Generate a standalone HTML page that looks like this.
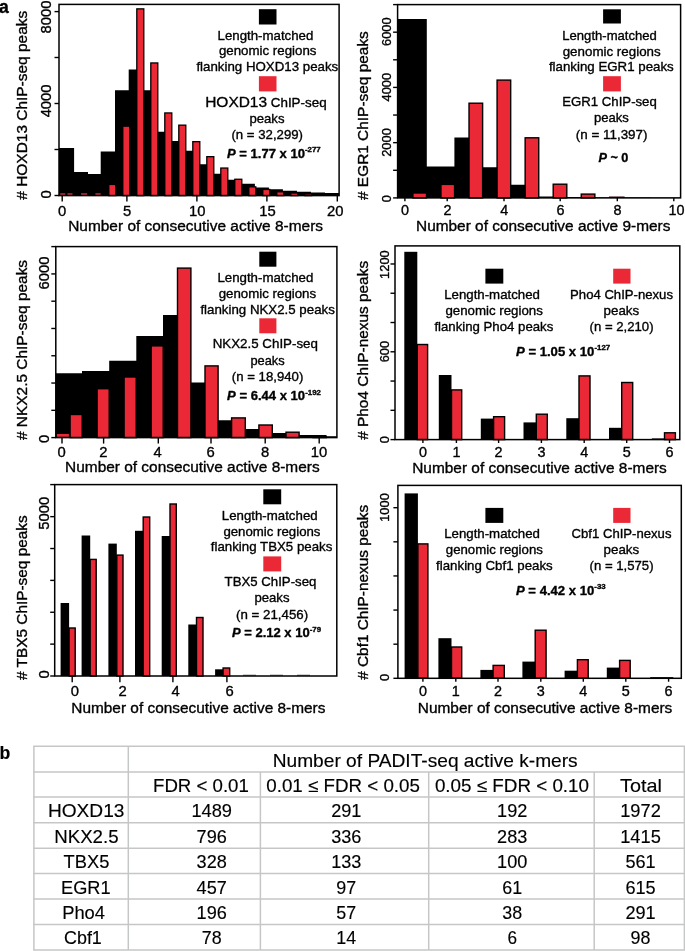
<!DOCTYPE html>
<html lang="en"><head><meta charset="utf-8"><title>Figure</title>
<style>html,body{margin:0;padding:0;background:#fff}svg{display:block}text{font-family:"Liberation Sans",sans-serif;stroke:#000;stroke-width:.35px;stroke-linejoin:round}#tbl text{stroke-width:.15px}</style>
</head><body>
<svg width="685" height="951" viewBox="0 0 685 951" font-family='"Liberation Sans", sans-serif'>
<rect width="685" height="951" fill="#fff"/>
<g id="p1">
<polygon fill="#000" points="59.00,195.60 59.00,148.00 74.10,148.00 74.10,172.00 88.00,172.00 88.00,174.00 100.70,174.00 100.70,151.50 115.00,151.50 115.00,90.30 128.70,90.30 128.70,69.50 142.72,69.50 142.72,90.30 156.74,90.30 156.74,131.70 170.76,131.70 170.76,141.00 184.78,141.00 184.78,150.70 198.80,150.70 198.80,164.30 212.82,164.30 212.82,173.80 226.84,173.80 226.84,179.70 240.86,179.70 240.86,183.80 254.88,183.80 254.88,187.60 268.90,187.60 268.90,189.30 282.92,189.30 282.92,190.70 296.94,190.70 296.94,191.70 310.96,191.70 310.96,192.50 324.98,192.50 324.98,193.10 339.10,193.10 339.10,195.60"/>
<rect x="108.80" y="184.45" width="7.00" height="11.15" fill="#eb2836" stroke="#000" stroke-width="1.3"/>
<rect x="122.80" y="126.15" width="7.00" height="69.45" fill="#eb2836" stroke="#000" stroke-width="1.3"/>
<rect x="136.80" y="8.85" width="7.00" height="186.75" fill="#eb2836" stroke="#000" stroke-width="1.3"/>
<rect x="150.80" y="62.95" width="7.00" height="132.65" fill="#eb2836" stroke="#000" stroke-width="1.3"/>
<rect x="164.80" y="112.95" width="7.00" height="82.65" fill="#eb2836" stroke="#000" stroke-width="1.3"/>
<rect x="178.80" y="125.15" width="7.00" height="70.45" fill="#eb2836" stroke="#000" stroke-width="1.3"/>
<rect x="192.80" y="141.65" width="7.00" height="53.95" fill="#eb2836" stroke="#000" stroke-width="1.3"/>
<rect x="206.80" y="156.65" width="7.00" height="38.95" fill="#eb2836" stroke="#000" stroke-width="1.3"/>
<rect x="220.80" y="168.05" width="7.00" height="27.55" fill="#eb2836" stroke="#000" stroke-width="1.3"/>
<rect x="234.80" y="179.25" width="7.00" height="16.35" fill="#eb2836" stroke="#000" stroke-width="1.3"/>
<rect x="248.80" y="186.85" width="7.00" height="8.75" fill="#eb2836" stroke="#000" stroke-width="1.3"/>
<rect x="262.80" y="189.45" width="7.00" height="6.15" fill="#eb2836" stroke="#000" stroke-width="1.3"/>
<rect x="276.80" y="191.85" width="7.00" height="3.75" fill="#eb2836" stroke="#000" stroke-width="1.3"/>
<rect x="290.80" y="193.05" width="7.00" height="2.55" fill="#eb2836" stroke="#000" stroke-width="1.3"/>
<rect x="304.80" y="193.95" width="7.00" height="1.65" fill="#eb2836" stroke="#000" stroke-width="1.3"/>
<rect x="60.20" y="193.20" width="5.10" height="1.70" fill="#b8283c"/>
<rect x="67.40" y="193.20" width="5.10" height="1.70" fill="#b8283c"/>
<rect x="81.00" y="193.20" width="6.20" height="1.70" fill="#b8283c"/>
<rect x="95.40" y="193.20" width="5.30" height="1.70" fill="#b8283c"/>
<rect x="59.00" y="4.40" width="280.10" height="191.20" fill="none" stroke="#000" stroke-width="1.5"/>
<line x1="54.50" y1="11.60" x2="59.00" y2="11.60" stroke="#000" stroke-width="1.4"/>
<line x1="54.50" y1="57.50" x2="59.00" y2="57.50" stroke="#000" stroke-width="1.4"/>
<line x1="54.50" y1="103.50" x2="59.00" y2="103.50" stroke="#000" stroke-width="1.4"/>
<line x1="54.50" y1="149.50" x2="59.00" y2="149.50" stroke="#000" stroke-width="1.4"/>
<line x1="54.50" y1="195.50" x2="59.00" y2="195.50" stroke="#000" stroke-width="1.4"/>
<line x1="62.20" y1="195.60" x2="62.20" y2="201.60" stroke="#000" stroke-width="1.4"/>
<line x1="126.90" y1="195.60" x2="126.90" y2="201.60" stroke="#000" stroke-width="1.4"/>
<line x1="196.90" y1="195.60" x2="196.90" y2="201.60" stroke="#000" stroke-width="1.4"/>
<line x1="266.90" y1="195.60" x2="266.90" y2="201.60" stroke="#000" stroke-width="1.4"/>
<line x1="337.30" y1="195.60" x2="337.30" y2="201.60" stroke="#000" stroke-width="1.4"/>
<text x="51.20" y="17.00" font-size="14.8" text-anchor="middle" transform="rotate(-90 51.20 17.00)">8000</text>
<text x="51.20" y="100.90" font-size="14.8" text-anchor="middle" transform="rotate(-90 51.20 100.90)">4000</text>
<text x="51.20" y="194.50" font-size="14.8" text-anchor="middle" transform="rotate(-90 51.20 194.50)">0</text>
<text x="27.00" y="199.70" font-size="15.4" textLength="188.87" lengthAdjust="spacingAndGlyphs" transform="rotate(-90 27.00 199.70)"># HOXD13 ChIP-seq peaks</text>
<text x="62.20" y="215.50" font-size="14.8" text-anchor="middle">0</text>
<text x="127.00" y="215.50" font-size="14.8" text-anchor="middle">5</text>
<text x="197.20" y="215.50" font-size="14.8" text-anchor="middle">10</text>
<text x="267.50" y="215.50" font-size="14.8" text-anchor="middle">15</text>
<text x="335.20" y="215.50" font-size="14.8" text-anchor="middle">20</text>
<text x="68.20" y="230.70" font-size="15.5" textLength="254.83" lengthAdjust="spacingAndGlyphs">Number of consecutive active 8-mers</text>
<rect x="258.90" y="9.20" width="17.60" height="15.30" fill="#000"/>
<rect x="258.90" y="76.20" width="17.60" height="15.20" fill="#eb2836"/>
<text x="217.60" y="40.00" font-size="13.15" textLength="95.73" lengthAdjust="spacingAndGlyphs">Length-matched</text>
<text x="218.90" y="55.40" font-size="13.15" textLength="97.57" lengthAdjust="spacingAndGlyphs">genomic regions</text>
<text x="196.40" y="71.00" font-size="13.15" textLength="141.87" lengthAdjust="spacingAndGlyphs">flanking HOXD13 peaks</text>
<text x="205.20" y="107.00" font-size="13.15" textLength="121.40" lengthAdjust="spacingAndGlyphs"><tspan font-size="15.2">HOXD13</tspan> ChIP-seq</text>
<text x="249.40" y="122.50" font-size="13.15" textLength="35.08" lengthAdjust="spacingAndGlyphs">peaks</text>
<text x="231.40" y="138.60" font-size="13.15" textLength="71.61" lengthAdjust="spacingAndGlyphs">(n = 32,299)</text>
<text x="226.90" y="157.50" font-size="13.1" textLength="93.80" lengthAdjust="spacingAndGlyphs" font-weight="bold"><tspan font-style="italic">P</tspan> = 1.77 x 10<tspan font-size="7.9" dy="-5.6">-277</tspan></text>
<text x="-1.00" y="12.80" font-size="17.6" font-weight="bold">a</text>
</g>
<g id="p2">
<polygon fill="#000" points="397.80,197.90 397.80,19.00 426.80,19.00 426.80,166.40 454.40,166.40 454.40,137.40 482.40,137.40 482.40,167.30 510.50,167.30 510.50,184.70 538.60,184.70 538.60,196.40 566.70,196.40 566.70,197.00 594.80,197.00 594.80,197.40 622.90,197.40 622.90,197.60 651.00,197.60 651.00,197.80 680.60,197.80 680.60,197.90"/>
<rect x="412.90" y="193.00" width="13.60" height="4.90" fill="#eb2836" stroke="#000" stroke-width="1.4"/>
<rect x="440.96" y="184.40" width="13.60" height="13.50" fill="#eb2836" stroke="#000" stroke-width="1.4"/>
<rect x="469.02" y="103.20" width="13.60" height="94.70" fill="#eb2836" stroke="#000" stroke-width="1.4"/>
<rect x="497.08" y="80.10" width="13.60" height="117.80" fill="#eb2836" stroke="#000" stroke-width="1.4"/>
<rect x="525.14" y="137.80" width="13.60" height="60.10" fill="#eb2836" stroke="#000" stroke-width="1.4"/>
<rect x="553.20" y="184.20" width="13.60" height="13.70" fill="#eb2836" stroke="#000" stroke-width="1.4"/>
<rect x="581.26" y="194.10" width="13.60" height="3.80" fill="#eb2836" stroke="#000" stroke-width="1.4"/>
<rect x="609.00" y="196.50" width="15.60" height="1.40" fill="#2a0508"/>
<rect x="397.60" y="4.60" width="283.00" height="193.30" fill="none" stroke="#000" stroke-width="1.5"/>
<line x1="393.10" y1="197.90" x2="397.60" y2="197.90" stroke="#000" stroke-width="1.4"/>
<line x1="393.10" y1="170.28" x2="397.60" y2="170.28" stroke="#000" stroke-width="1.4"/>
<line x1="393.10" y1="142.66" x2="397.60" y2="142.66" stroke="#000" stroke-width="1.4"/>
<line x1="393.10" y1="115.04" x2="397.60" y2="115.04" stroke="#000" stroke-width="1.4"/>
<line x1="393.10" y1="87.42" x2="397.60" y2="87.42" stroke="#000" stroke-width="1.4"/>
<line x1="393.10" y1="59.80" x2="397.60" y2="59.80" stroke="#000" stroke-width="1.4"/>
<line x1="393.10" y1="32.18" x2="397.60" y2="32.18" stroke="#000" stroke-width="1.4"/>
<line x1="393.10" y1="4.60" x2="397.60" y2="4.60" stroke="#000" stroke-width="1.4"/>
<line x1="404.90" y1="197.90" x2="404.90" y2="201.30" stroke="#000" stroke-width="1.4"/>
<line x1="447.20" y1="197.90" x2="447.20" y2="201.30" stroke="#000" stroke-width="1.4"/>
<line x1="504.00" y1="197.90" x2="504.00" y2="201.30" stroke="#000" stroke-width="1.4"/>
<line x1="560.20" y1="197.90" x2="560.20" y2="201.30" stroke="#000" stroke-width="1.4"/>
<line x1="617.30" y1="197.90" x2="617.30" y2="201.30" stroke="#000" stroke-width="1.4"/>
<line x1="673.80" y1="197.90" x2="673.80" y2="201.30" stroke="#000" stroke-width="1.4"/>
<text x="391.00" y="31.70" font-size="12.9" text-anchor="middle" transform="rotate(-90 391.00 31.70)">6000</text>
<text x="391.00" y="87.20" font-size="12.9" text-anchor="middle" transform="rotate(-90 391.00 87.20)">4000</text>
<text x="391.00" y="142.50" font-size="12.9" text-anchor="middle" transform="rotate(-90 391.00 142.50)">2000</text>
<text x="391.00" y="198.70" font-size="12.9" text-anchor="middle" transform="rotate(-90 391.00 198.70)">0</text>
<text x="368.00" y="200.00" font-size="15.4" textLength="168.80" lengthAdjust="spacingAndGlyphs" transform="rotate(-90 368.00 200.00)"># EGR1 ChIP-seq peaks</text>
<text x="404.90" y="215.20" font-size="14.4" text-anchor="middle">0</text>
<text x="447.50" y="215.20" font-size="14.4" text-anchor="middle">2</text>
<text x="504.30" y="215.20" font-size="14.4" text-anchor="middle">4</text>
<text x="560.60" y="215.20" font-size="14.4" text-anchor="middle">6</text>
<text x="617.50" y="215.20" font-size="14.4" text-anchor="middle">8</text>
<text x="676.60" y="215.20" font-size="14.4" text-anchor="middle">10</text>
<text x="416.00" y="230.50" font-size="15.4" textLength="254.43" lengthAdjust="spacingAndGlyphs">Number of consecutive active 9-mers</text>
<rect x="603.10" y="9.30" width="17.80" height="14.20" fill="#000"/>
<rect x="603.10" y="76.20" width="17.80" height="15.20" fill="#eb2836"/>
<text x="562.30" y="39.80" font-size="13.15" textLength="94.53" lengthAdjust="spacingAndGlyphs">Length-matched</text>
<text x="562.70" y="55.50" font-size="13.15" textLength="97.97" lengthAdjust="spacingAndGlyphs">genomic regions</text>
<text x="548.90" y="70.90" font-size="13.15" textLength="124.89" lengthAdjust="spacingAndGlyphs">flanking EGR1 peaks</text>
<text x="562.30" y="106.40" font-size="13.15" textLength="94.49" lengthAdjust="spacingAndGlyphs">EGR1 ChIP-seq</text>
<text x="594.00" y="121.90" font-size="13.15" textLength="34.88" lengthAdjust="spacingAndGlyphs">peaks</text>
<text x="575.80" y="139.10" font-size="13.15" textLength="71.72" lengthAdjust="spacingAndGlyphs">(n = 11,397)</text>
<text x="598.40" y="162.00" font-size="13.6" textLength="30.00" lengthAdjust="spacingAndGlyphs" font-weight="bold"><tspan font-style="italic">P</tspan> ~ 0</text>
</g>
<g id="p3">
<polygon fill="#000" points="55.80,437.60 55.80,373.30 82.00,373.30 82.00,371.10 109.20,371.10 109.20,360.80 136.30,360.80 136.30,336.10 163.00,336.10 163.00,315.00 190.70,315.00 190.70,382.60 218.00,382.60 218.00,420.20 245.50,420.20 245.50,429.00 272.40,429.00 272.40,433.00 299.00,433.00 299.00,435.00 326.30,435.00 326.30,436.20 336.90,436.20 336.90,437.60"/>
<rect x="70.10" y="414.50" width="12.10" height="23.10" fill="#eb2836" stroke="#000" stroke-width="1.4"/>
<rect x="97.10" y="388.70" width="12.10" height="48.90" fill="#eb2836" stroke="#000" stroke-width="1.4"/>
<rect x="124.10" y="377.00" width="12.10" height="60.60" fill="#eb2836" stroke="#000" stroke-width="1.4"/>
<rect x="151.20" y="345.90" width="12.00" height="91.70" fill="#eb2836" stroke="#000" stroke-width="1.4"/>
<rect x="177.50" y="268.10" width="13.40" height="169.50" fill="#eb2836" stroke="#000" stroke-width="1.4"/>
<rect x="205.00" y="365.90" width="13.10" height="71.70" fill="#eb2836" stroke="#000" stroke-width="1.4"/>
<rect x="231.60" y="417.90" width="13.70" height="19.70" fill="#eb2836" stroke="#000" stroke-width="1.4"/>
<rect x="258.90" y="425.00" width="13.40" height="12.60" fill="#eb2836" stroke="#000" stroke-width="1.4"/>
<rect x="286.00" y="432.20" width="13.10" height="5.40" fill="#eb2836" stroke="#000" stroke-width="1.4"/>
<rect x="313.10" y="436.30" width="13.10" height="1.30" fill="#eb2836" stroke="#000" stroke-width="1.4"/>
<rect x="56.80" y="434.00" width="12.10" height="2.80" fill="#eb2836"/>
<rect x="55.80" y="246.60" width="281.10" height="191.00" fill="none" stroke="#000" stroke-width="1.5"/>
<line x1="51.30" y1="437.60" x2="55.80" y2="437.60" stroke="#000" stroke-width="1.4"/>
<line x1="51.30" y1="410.32" x2="55.80" y2="410.32" stroke="#000" stroke-width="1.4"/>
<line x1="51.30" y1="383.04" x2="55.80" y2="383.04" stroke="#000" stroke-width="1.4"/>
<line x1="51.30" y1="355.76" x2="55.80" y2="355.76" stroke="#000" stroke-width="1.4"/>
<line x1="51.30" y1="328.48" x2="55.80" y2="328.48" stroke="#000" stroke-width="1.4"/>
<line x1="51.30" y1="301.20" x2="55.80" y2="301.20" stroke="#000" stroke-width="1.4"/>
<line x1="51.30" y1="273.92" x2="55.80" y2="273.92" stroke="#000" stroke-width="1.4"/>
<line x1="51.30" y1="246.60" x2="55.80" y2="246.60" stroke="#000" stroke-width="1.4"/>
<line x1="62.00" y1="437.60" x2="62.00" y2="443.60" stroke="#000" stroke-width="1.4"/>
<line x1="103.60" y1="437.60" x2="103.60" y2="443.60" stroke="#000" stroke-width="1.4"/>
<line x1="158.30" y1="437.60" x2="158.30" y2="443.60" stroke="#000" stroke-width="1.4"/>
<line x1="211.00" y1="437.60" x2="211.00" y2="443.60" stroke="#000" stroke-width="1.4"/>
<line x1="265.20" y1="437.60" x2="265.20" y2="443.60" stroke="#000" stroke-width="1.4"/>
<line x1="319.20" y1="437.60" x2="319.20" y2="443.60" stroke="#000" stroke-width="1.4"/>
<text x="49.00" y="273.00" font-size="14.8" text-anchor="middle" transform="rotate(-90 49.00 273.00)">6000</text>
<text x="49.00" y="438.80" font-size="14.8" text-anchor="middle" transform="rotate(-90 49.00 438.80)">0</text>
<text x="27.10" y="440.00" font-size="15.4" textLength="180.07" lengthAdjust="spacingAndGlyphs" transform="rotate(-90 27.10 440.00)"># NKX2.5 ChIP-seq peaks</text>
<text x="61.50" y="457.20" font-size="14.8" text-anchor="middle">0</text>
<text x="103.40" y="457.20" font-size="14.8" text-anchor="middle">2</text>
<text x="157.50" y="457.20" font-size="14.8" text-anchor="middle">4</text>
<text x="210.50" y="457.20" font-size="14.8" text-anchor="middle">6</text>
<text x="265.00" y="457.20" font-size="14.8" text-anchor="middle">8</text>
<text x="319.00" y="457.20" font-size="14.8" text-anchor="middle">10</text>
<text x="65.10" y="472.40" font-size="15.5" textLength="254.53" lengthAdjust="spacingAndGlyphs">Number of consecutive active 8-mers</text>
<rect x="259.30" y="251.70" width="17.10" height="15.00" fill="#000"/>
<rect x="259.30" y="318.30" width="17.10" height="15.00" fill="#eb2836"/>
<text x="217.40" y="282.10" font-size="13.15" textLength="95.93" lengthAdjust="spacingAndGlyphs">Length-matched</text>
<text x="218.70" y="297.60" font-size="13.15" textLength="97.47" lengthAdjust="spacingAndGlyphs">genomic regions</text>
<text x="200.40" y="313.60" font-size="13.15" textLength="134.43" lengthAdjust="spacingAndGlyphs">flanking NKX2.5 peaks</text>
<text x="212.70" y="348.10" font-size="13.15" textLength="105.27" lengthAdjust="spacingAndGlyphs">NKX2.5 ChIP-seq</text>
<text x="250.40" y="364.50" font-size="13.15" textLength="34.28" lengthAdjust="spacingAndGlyphs">peaks</text>
<text x="231.80" y="380.70" font-size="13.15" textLength="71.51" lengthAdjust="spacingAndGlyphs">(n = 18,940)</text>
<text x="227.10" y="400.10" font-size="13.1" textLength="93.80" lengthAdjust="spacingAndGlyphs" font-weight="bold"><tspan font-style="italic">P</tspan> = 6.44 x 10<tspan font-size="7.9" dy="-5.6">-192</tspan></text>
</g>
<g id="p4">
<rect x="404.30" y="251.80" width="13.00" height="187.80" fill="#000"/>
<rect x="417.30" y="344.50" width="10.30" height="95.10" fill="#eb2836" stroke="#000" stroke-width="1.4"/>
<rect x="438.80" y="375.00" width="12.70" height="64.60" fill="#000"/>
<rect x="451.50" y="389.90" width="10.20" height="49.70" fill="#eb2836" stroke="#000" stroke-width="1.4"/>
<rect x="480.80" y="418.60" width="12.80" height="21.00" fill="#000"/>
<rect x="493.60" y="416.70" width="11.00" height="22.90" fill="#eb2836" stroke="#000" stroke-width="1.4"/>
<rect x="523.50" y="422.40" width="12.80" height="17.20" fill="#000"/>
<rect x="536.30" y="414.20" width="11.00" height="25.40" fill="#eb2836" stroke="#000" stroke-width="1.4"/>
<rect x="566.30" y="418.20" width="12.70" height="21.40" fill="#000"/>
<rect x="579.00" y="375.90" width="11.00" height="63.70" fill="#eb2836" stroke="#000" stroke-width="1.4"/>
<rect x="609.00" y="427.80" width="12.70" height="11.80" fill="#000"/>
<rect x="621.70" y="382.50" width="11.00" height="57.10" fill="#eb2836" stroke="#000" stroke-width="1.4"/>
<rect x="651.80" y="438.40" width="12.70" height="1.20" fill="#000"/>
<rect x="664.50" y="432.80" width="10.90" height="6.80" fill="#eb2836" stroke="#000" stroke-width="1.4"/>
<rect x="395.00" y="245.90" width="284.80" height="193.70" fill="none" stroke="#000" stroke-width="1.5"/>
<line x1="390.50" y1="439.60" x2="395.00" y2="439.60" stroke="#000" stroke-width="1.4"/>
<line x1="390.50" y1="410.33" x2="395.00" y2="410.33" stroke="#000" stroke-width="1.4"/>
<line x1="390.50" y1="381.06" x2="395.00" y2="381.06" stroke="#000" stroke-width="1.4"/>
<line x1="390.50" y1="351.79" x2="395.00" y2="351.79" stroke="#000" stroke-width="1.4"/>
<line x1="390.50" y1="322.52" x2="395.00" y2="322.52" stroke="#000" stroke-width="1.4"/>
<line x1="390.50" y1="293.25" x2="395.00" y2="293.25" stroke="#000" stroke-width="1.4"/>
<line x1="390.50" y1="263.98" x2="395.00" y2="263.98" stroke="#000" stroke-width="1.4"/>
<line x1="422.90" y1="439.60" x2="422.90" y2="443.00" stroke="#000" stroke-width="1.4"/>
<line x1="456.40" y1="439.60" x2="456.40" y2="443.00" stroke="#000" stroke-width="1.4"/>
<line x1="498.60" y1="439.60" x2="498.60" y2="443.00" stroke="#000" stroke-width="1.4"/>
<line x1="541.40" y1="439.60" x2="541.40" y2="443.00" stroke="#000" stroke-width="1.4"/>
<line x1="584.20" y1="439.60" x2="584.20" y2="443.00" stroke="#000" stroke-width="1.4"/>
<line x1="626.70" y1="439.60" x2="626.70" y2="443.00" stroke="#000" stroke-width="1.4"/>
<line x1="669.50" y1="439.60" x2="669.50" y2="443.00" stroke="#000" stroke-width="1.4"/>
<text x="389.00" y="264.60" font-size="12.9" text-anchor="middle" transform="rotate(-90 389.00 264.60)">1200</text>
<text x="389.00" y="351.60" font-size="12.9" text-anchor="middle" transform="rotate(-90 389.00 351.60)">600</text>
<text x="389.00" y="439.70" font-size="12.9" text-anchor="middle" transform="rotate(-90 389.00 439.70)">0</text>
<text x="367.80" y="439.80" font-size="15.4" textLength="178.88" lengthAdjust="spacingAndGlyphs" transform="rotate(-90 367.80 439.80)"># Pho4 ChIP-nexus peaks</text>
<text x="422.90" y="456.70" font-size="14.4" text-anchor="middle">0</text>
<text x="456.40" y="456.70" font-size="14.4" text-anchor="middle">1</text>
<text x="498.60" y="456.70" font-size="14.4" text-anchor="middle">2</text>
<text x="541.40" y="456.70" font-size="14.4" text-anchor="middle">3</text>
<text x="584.20" y="456.70" font-size="14.4" text-anchor="middle">4</text>
<text x="626.70" y="456.70" font-size="14.4" text-anchor="middle">5</text>
<text x="669.50" y="456.70" font-size="14.4" text-anchor="middle">6</text>
<text x="412.20" y="472.50" font-size="15.4" textLength="254.63" lengthAdjust="spacingAndGlyphs">Number of consecutive active 8-mers</text>
<rect x="485.40" y="268.70" width="17.90" height="14.90" fill="#000"/>
<rect x="613.20" y="268.70" width="17.30" height="14.90" fill="#eb2836"/>
<text x="444.20" y="298.80" font-size="13.15" textLength="95.73" lengthAdjust="spacingAndGlyphs">Length-matched</text>
<text x="445.40" y="315.00" font-size="13.15" textLength="97.47" lengthAdjust="spacingAndGlyphs">genomic regions</text>
<text x="434.40" y="331.30" font-size="13.15" textLength="118.92" lengthAdjust="spacingAndGlyphs">flanking Pho4 peaks</text>
<text x="570.10" y="298.80" font-size="13.15" textLength="102.88" lengthAdjust="spacingAndGlyphs">Pho4 ChIP-nexus</text>
<text x="603.60" y="315.00" font-size="13.15" textLength="35.58" lengthAdjust="spacingAndGlyphs">peaks</text>
<text x="589.50" y="331.30" font-size="13.15" textLength="64.09" lengthAdjust="spacingAndGlyphs">(n = 2,210)</text>
<text x="516.00" y="355.90" font-size="13.1" textLength="94.20" lengthAdjust="spacingAndGlyphs" font-weight="bold"><tspan font-style="italic">P</tspan> = 1.05 x 10<tspan font-size="7.9" dy="-5.6">-127</tspan></text>
</g>
<g id="p5">
<rect x="60.60" y="603.00" width="8.50" height="73.00" fill="#000"/>
<rect x="69.10" y="628.00" width="6.10" height="48.00" fill="#eb2836" stroke="#000" stroke-width="1.4"/>
<rect x="81.60" y="535.50" width="8.60" height="140.50" fill="#000"/>
<rect x="90.20" y="559.40" width="6.00" height="116.60" fill="#eb2836" stroke="#000" stroke-width="1.4"/>
<rect x="108.40" y="543.60" width="8.40" height="132.40" fill="#000"/>
<rect x="116.80" y="555.10" width="6.20" height="120.90" fill="#eb2836" stroke="#000" stroke-width="1.4"/>
<rect x="135.00" y="530.80" width="8.20" height="145.20" fill="#000"/>
<rect x="143.20" y="517.00" width="6.50" height="159.00" fill="#eb2836" stroke="#000" stroke-width="1.4"/>
<rect x="161.70" y="536.00" width="8.30" height="140.00" fill="#000"/>
<rect x="170.00" y="504.00" width="6.30" height="172.00" fill="#eb2836" stroke="#000" stroke-width="1.4"/>
<rect x="188.30" y="624.50" width="8.20" height="51.50" fill="#000"/>
<rect x="196.50" y="617.50" width="6.50" height="58.50" fill="#eb2836" stroke="#000" stroke-width="1.4"/>
<rect x="215.10" y="669.30" width="8.00" height="6.70" fill="#000"/>
<rect x="223.10" y="668.00" width="6.60" height="8.00" fill="#eb2836" stroke="#000" stroke-width="1.4"/>
<rect x="243.00" y="674.60" width="13.00" height="1.40" fill="#888"/>
<rect x="270.00" y="674.60" width="13.00" height="1.40" fill="#888"/>
<rect x="297.00" y="674.60" width="13.00" height="1.40" fill="#888"/>
<rect x="54.70" y="484.60" width="282.10" height="191.40" fill="none" stroke="#000" stroke-width="1.5"/>
<line x1="50.20" y1="676.00" x2="54.70" y2="676.00" stroke="#000" stroke-width="1.4"/>
<line x1="50.20" y1="644.13" x2="54.70" y2="644.13" stroke="#000" stroke-width="1.4"/>
<line x1="50.20" y1="612.26" x2="54.70" y2="612.26" stroke="#000" stroke-width="1.4"/>
<line x1="50.20" y1="580.39" x2="54.70" y2="580.39" stroke="#000" stroke-width="1.4"/>
<line x1="50.20" y1="548.52" x2="54.70" y2="548.52" stroke="#000" stroke-width="1.4"/>
<line x1="50.20" y1="516.65" x2="54.70" y2="516.65" stroke="#000" stroke-width="1.4"/>
<line x1="50.20" y1="484.60" x2="54.70" y2="484.60" stroke="#000" stroke-width="1.4"/>
<line x1="72.20" y1="676.00" x2="72.20" y2="682.20" stroke="#000" stroke-width="1.4"/>
<line x1="119.90" y1="676.00" x2="119.90" y2="682.20" stroke="#000" stroke-width="1.4"/>
<line x1="172.90" y1="676.00" x2="172.90" y2="682.20" stroke="#000" stroke-width="1.4"/>
<line x1="226.90" y1="676.00" x2="226.90" y2="682.20" stroke="#000" stroke-width="1.4"/>
<text x="48.80" y="513.30" font-size="14.8" text-anchor="middle" transform="rotate(-90 48.80 513.30)">5000</text>
<text x="48.80" y="674.30" font-size="14.8" text-anchor="middle" transform="rotate(-90 48.80 674.30)">0</text>
<text x="27.20" y="680.00" font-size="15.4" textLength="164.70" lengthAdjust="spacingAndGlyphs" transform="rotate(-90 27.20 680.00)"># TBX5 ChIP-seq peaks</text>
<text x="74.90" y="696.20" font-size="14.8" text-anchor="middle">0</text>
<text x="122.60" y="696.20" font-size="14.8" text-anchor="middle">2</text>
<text x="175.60" y="696.20" font-size="14.8" text-anchor="middle">4</text>
<text x="229.60" y="696.20" font-size="14.8" text-anchor="middle">6</text>
<text x="71.30" y="712.80" font-size="15.5" textLength="254.13" lengthAdjust="spacingAndGlyphs">Number of consecutive active 8-mers</text>
<rect x="263.30" y="489.30" width="17.90" height="15.00" fill="#000"/>
<rect x="263.30" y="556.40" width="17.90" height="15.00" fill="#eb2836"/>
<text x="221.80" y="519.80" font-size="13.15" textLength="95.83" lengthAdjust="spacingAndGlyphs">Length-matched</text>
<text x="223.40" y="535.70" font-size="13.15" textLength="97.07" lengthAdjust="spacingAndGlyphs">genomic regions</text>
<text x="210.80" y="551.20" font-size="13.15" textLength="121.59" lengthAdjust="spacingAndGlyphs">flanking TBX5 peaks</text>
<text x="224.60" y="585.80" font-size="13.15" textLength="91.77" lengthAdjust="spacingAndGlyphs">TBX5 ChIP-seq</text>
<text x="254.40" y="602.40" font-size="13.15" textLength="35.08" lengthAdjust="spacingAndGlyphs">peaks</text>
<text x="236.10" y="619.30" font-size="13.15" textLength="72.01" lengthAdjust="spacingAndGlyphs">(n = 21,456)</text>
<text x="231.90" y="637.30" font-size="13.1" textLength="89.10" lengthAdjust="spacingAndGlyphs" font-weight="bold"><tspan font-style="italic">P</tspan> = 2.12 x 10<tspan font-size="7.9" dy="-5.6">-79</tspan></text>
</g>
<g id="p6">
<rect x="404.60" y="493.40" width="13.30" height="184.90" fill="#000"/>
<rect x="417.90" y="543.90" width="10.00" height="134.40" fill="#eb2836" stroke="#000" stroke-width="1.4"/>
<rect x="438.40" y="638.20" width="13.10" height="40.10" fill="#000"/>
<rect x="451.50" y="647.00" width="10.20" height="31.30" fill="#eb2836" stroke="#000" stroke-width="1.4"/>
<rect x="480.40" y="669.90" width="12.70" height="8.40" fill="#000"/>
<rect x="493.10" y="665.40" width="11.20" height="12.90" fill="#eb2836" stroke="#000" stroke-width="1.4"/>
<rect x="522.40" y="661.60" width="12.80" height="16.70" fill="#000"/>
<rect x="535.20" y="630.20" width="10.90" height="48.10" fill="#eb2836" stroke="#000" stroke-width="1.4"/>
<rect x="564.60" y="670.70" width="12.80" height="7.60" fill="#000"/>
<rect x="577.40" y="659.70" width="10.80" height="18.60" fill="#eb2836" stroke="#000" stroke-width="1.4"/>
<rect x="606.80" y="667.60" width="12.80" height="10.70" fill="#000"/>
<rect x="619.60" y="660.40" width="10.60" height="17.90" fill="#eb2836" stroke="#000" stroke-width="1.4"/>
<rect x="650.20" y="677.00" width="23.10" height="1.30" fill="#222"/>
<rect x="397.90" y="485.40" width="283.40" height="192.90" fill="none" stroke="#000" stroke-width="1.5"/>
<line x1="393.40" y1="678.30" x2="397.90" y2="678.30" stroke="#000" stroke-width="1.4"/>
<line x1="393.40" y1="644.18" x2="397.90" y2="644.18" stroke="#000" stroke-width="1.4"/>
<line x1="393.40" y1="610.06" x2="397.90" y2="610.06" stroke="#000" stroke-width="1.4"/>
<line x1="393.40" y1="575.94" x2="397.90" y2="575.94" stroke="#000" stroke-width="1.4"/>
<line x1="393.40" y1="541.82" x2="397.90" y2="541.82" stroke="#000" stroke-width="1.4"/>
<line x1="393.40" y1="507.70" x2="397.90" y2="507.70" stroke="#000" stroke-width="1.4"/>
<line x1="422.90" y1="678.30" x2="422.90" y2="681.70" stroke="#000" stroke-width="1.4"/>
<line x1="455.80" y1="678.30" x2="455.80" y2="681.70" stroke="#000" stroke-width="1.4"/>
<line x1="498.00" y1="678.30" x2="498.00" y2="681.70" stroke="#000" stroke-width="1.4"/>
<line x1="540.80" y1="678.30" x2="540.80" y2="681.70" stroke="#000" stroke-width="1.4"/>
<line x1="583.30" y1="678.30" x2="583.30" y2="681.70" stroke="#000" stroke-width="1.4"/>
<line x1="625.80" y1="678.30" x2="625.80" y2="681.70" stroke="#000" stroke-width="1.4"/>
<line x1="668.60" y1="678.30" x2="668.60" y2="681.70" stroke="#000" stroke-width="1.4"/>
<text x="389.00" y="507.50" font-size="12.9" text-anchor="middle" transform="rotate(-90 389.00 507.50)">1000</text>
<text x="389.00" y="677.30" font-size="12.9" text-anchor="middle" transform="rotate(-90 389.00 677.30)">0</text>
<text x="367.80" y="679.80" font-size="15.4" textLength="175.00" lengthAdjust="spacingAndGlyphs" transform="rotate(-90 367.80 679.80)"># Cbf1 ChIP-nexus peaks</text>
<text x="422.90" y="695.90" font-size="14.4" text-anchor="middle">0</text>
<text x="455.80" y="695.90" font-size="14.4" text-anchor="middle">1</text>
<text x="498.00" y="695.90" font-size="14.4" text-anchor="middle">2</text>
<text x="540.80" y="695.90" font-size="14.4" text-anchor="middle">3</text>
<text x="583.30" y="695.90" font-size="14.4" text-anchor="middle">4</text>
<text x="625.80" y="695.90" font-size="14.4" text-anchor="middle">5</text>
<text x="668.60" y="695.90" font-size="14.4" text-anchor="middle">6</text>
<text x="417.80" y="713.10" font-size="15.4" textLength="254.53" lengthAdjust="spacingAndGlyphs">Number of consecutive active 8-mers</text>
<rect x="485.40" y="507.90" width="17.90" height="15.00" fill="#000"/>
<rect x="613.20" y="507.90" width="17.30" height="15.00" fill="#eb2836"/>
<text x="444.20" y="537.90" font-size="13.15" textLength="95.73" lengthAdjust="spacingAndGlyphs">Length-matched</text>
<text x="445.80" y="554.30" font-size="13.15" textLength="97.07" lengthAdjust="spacingAndGlyphs">genomic regions</text>
<text x="436.10" y="570.00" font-size="13.15" textLength="116.58" lengthAdjust="spacingAndGlyphs">flanking Cbf1 peaks</text>
<text x="571.60" y="537.90" font-size="13.15" textLength="99.90" lengthAdjust="spacingAndGlyphs">Cbf1 ChIP-nexus</text>
<text x="603.60" y="554.30" font-size="13.15" textLength="35.58" lengthAdjust="spacingAndGlyphs">peaks</text>
<text x="589.50" y="570.00" font-size="13.15" textLength="64.09" lengthAdjust="spacingAndGlyphs">(n = 1,575)</text>
<text x="516.00" y="594.50" font-size="13.1" textLength="89.70" lengthAdjust="spacingAndGlyphs" font-weight="bold"><tspan font-style="italic">P</tspan> = 4.42 x 10<tspan font-size="7.9" dy="-5.6">-33</tspan></text>
</g>
<g id="tbl">
<line x1="33.20" y1="746.30" x2="685.10" y2="746.30" stroke="#c5c7c7" stroke-width="1.5"/>
<line x1="33.20" y1="771.90" x2="685.10" y2="771.90" stroke="#c5c7c7" stroke-width="1.5"/>
<line x1="33.20" y1="797.10" x2="685.10" y2="797.10" stroke="#c5c7c7" stroke-width="1.5"/>
<line x1="33.20" y1="822.70" x2="685.10" y2="822.70" stroke="#c5c7c7" stroke-width="1.5"/>
<line x1="33.20" y1="848.20" x2="685.10" y2="848.20" stroke="#c5c7c7" stroke-width="1.5"/>
<line x1="33.20" y1="873.60" x2="685.10" y2="873.60" stroke="#c5c7c7" stroke-width="1.5"/>
<line x1="33.20" y1="899.00" x2="685.10" y2="899.00" stroke="#c5c7c7" stroke-width="1.5"/>
<line x1="33.20" y1="924.60" x2="685.10" y2="924.60" stroke="#c5c7c7" stroke-width="1.5"/>
<line x1="33.20" y1="949.90" x2="685.10" y2="949.90" stroke="#c5c7c7" stroke-width="1.5"/>
<line x1="33.90" y1="746.30" x2="33.90" y2="949.90" stroke="#c5c7c7" stroke-width="1.5"/>
<line x1="128.30" y1="746.30" x2="128.30" y2="949.90" stroke="#c5c7c7" stroke-width="1.5"/>
<line x1="260.40" y1="771.90" x2="260.40" y2="949.90" stroke="#c5c7c7" stroke-width="1.5"/>
<line x1="428.70" y1="771.90" x2="428.70" y2="949.90" stroke="#c5c7c7" stroke-width="1.5"/>
<line x1="594.20" y1="771.90" x2="594.20" y2="949.90" stroke="#c5c7c7" stroke-width="1.5"/>
<line x1="684.40" y1="746.30" x2="684.40" y2="949.90" stroke="#c5c7c7" stroke-width="1.5"/>
<text x="-0.50" y="758.60" font-size="17.7" font-weight="bold">b</text>
<text x="272.70" y="766.60" font-size="18.4" textLength="305.01" lengthAdjust="spacingAndGlyphs">Number of PADIT-seq active k-mers</text>
<text x="153.00" y="792.00" font-size="18.4" textLength="95.82" lengthAdjust="spacingAndGlyphs">FDR &lt; 0.01</text>
<text x="266.30" y="792.00" font-size="18.4" textLength="153.64" lengthAdjust="spacingAndGlyphs">0.01 ≤ FDR &lt; 0.05</text>
<text x="434.90" y="792.00" font-size="18.4" textLength="154.14" lengthAdjust="spacingAndGlyphs">0.05 ≤ FDR &lt; 0.10</text>
<text x="620.00" y="792.00" font-size="18.4" textLength="41.85" lengthAdjust="spacingAndGlyphs">Total</text>
<text x="47.90" y="817.20" font-size="18.4" textLength="76.53" lengthAdjust="spacingAndGlyphs">HOXD13</text>
<text x="211.70" y="817.20" font-size="18.4" text-anchor="middle" textLength="40.60" lengthAdjust="spacingAndGlyphs">1489</text>
<text x="346.30" y="817.20" font-size="18.4" text-anchor="middle" textLength="30.25" lengthAdjust="spacingAndGlyphs">291</text>
<text x="512.20" y="817.20" font-size="18.4" text-anchor="middle" textLength="30.25" lengthAdjust="spacingAndGlyphs">192</text>
<text x="640.50" y="817.20" font-size="18.4" text-anchor="middle" textLength="40.60" lengthAdjust="spacingAndGlyphs">1972</text>
<text x="54.20" y="842.80" font-size="18.4" textLength="64.43" lengthAdjust="spacingAndGlyphs">NKX2.5</text>
<text x="211.70" y="842.80" font-size="18.4" text-anchor="middle" textLength="30.25" lengthAdjust="spacingAndGlyphs">796</text>
<text x="346.30" y="842.80" font-size="18.4" text-anchor="middle" textLength="30.25" lengthAdjust="spacingAndGlyphs">336</text>
<text x="512.20" y="842.80" font-size="18.4" text-anchor="middle" textLength="30.25" lengthAdjust="spacingAndGlyphs">283</text>
<text x="640.50" y="842.80" font-size="18.4" text-anchor="middle" textLength="40.60" lengthAdjust="spacingAndGlyphs">1415</text>
<text x="63.50" y="868.20" font-size="18.4" textLength="45.82" lengthAdjust="spacingAndGlyphs">TBX5</text>
<text x="211.70" y="868.20" font-size="18.4" text-anchor="middle" textLength="30.25" lengthAdjust="spacingAndGlyphs">328</text>
<text x="346.30" y="868.20" font-size="18.4" text-anchor="middle" textLength="30.25" lengthAdjust="spacingAndGlyphs">133</text>
<text x="512.20" y="868.20" font-size="18.4" text-anchor="middle" textLength="30.25" lengthAdjust="spacingAndGlyphs">100</text>
<text x="640.50" y="868.20" font-size="18.4" text-anchor="middle" textLength="30.25" lengthAdjust="spacingAndGlyphs">561</text>
<text x="61.00" y="893.70" font-size="18.4" textLength="49.57" lengthAdjust="spacingAndGlyphs">EGR1</text>
<text x="211.70" y="893.70" font-size="18.4" text-anchor="middle" textLength="30.25" lengthAdjust="spacingAndGlyphs">457</text>
<text x="346.30" y="893.70" font-size="18.4" text-anchor="middle" textLength="19.90" lengthAdjust="spacingAndGlyphs">97</text>
<text x="512.20" y="893.70" font-size="18.4" text-anchor="middle" textLength="19.90" lengthAdjust="spacingAndGlyphs">61</text>
<text x="640.50" y="893.70" font-size="18.4" text-anchor="middle" textLength="30.25" lengthAdjust="spacingAndGlyphs">615</text>
<text x="62.20" y="919.20" font-size="18.4" textLength="42.81" lengthAdjust="spacingAndGlyphs">Pho4</text>
<text x="211.70" y="919.20" font-size="18.4" text-anchor="middle" textLength="30.25" lengthAdjust="spacingAndGlyphs">196</text>
<text x="346.30" y="919.20" font-size="18.4" text-anchor="middle" textLength="19.90" lengthAdjust="spacingAndGlyphs">57</text>
<text x="512.20" y="919.20" font-size="18.4" text-anchor="middle" textLength="19.90" lengthAdjust="spacingAndGlyphs">38</text>
<text x="640.50" y="919.20" font-size="18.4" text-anchor="middle" textLength="30.25" lengthAdjust="spacingAndGlyphs">291</text>
<text x="64.00" y="944.40" font-size="18.4" textLength="37.84" lengthAdjust="spacingAndGlyphs">Cbf1</text>
<text x="211.70" y="944.40" font-size="18.4" text-anchor="middle" textLength="19.90" lengthAdjust="spacingAndGlyphs">78</text>
<text x="346.30" y="944.40" font-size="18.4" text-anchor="middle" textLength="19.90" lengthAdjust="spacingAndGlyphs">14</text>
<text x="512.20" y="944.40" font-size="18.4" text-anchor="middle" textLength="9.55" lengthAdjust="spacingAndGlyphs">6</text>
<text x="640.50" y="944.40" font-size="18.4" text-anchor="middle" textLength="19.90" lengthAdjust="spacingAndGlyphs">98</text>
</g>
</svg>
</body></html>
